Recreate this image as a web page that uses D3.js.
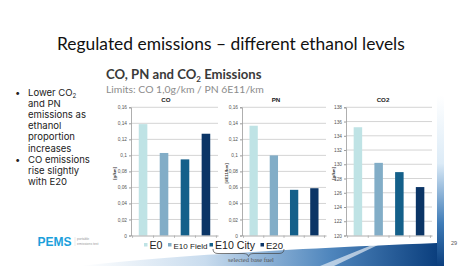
<!DOCTYPE html>
<html><head><meta charset="utf-8">
<script src="https://cdn.jsdelivr.net/npm/d3@7/dist/d3.min.js"></script>
<style>html,body{margin:0;padding:0;background:#fff;overflow:hidden}</style>
</head><body>
<svg id="c" width="474" height="266"></svg>
<script>
// ---- data ----
const categories = ["E0", "E10 Field", "E10 City", "E20"];
const coValues  = [0.139, 0.103, 0.095, 0.127];
const pnValues  = [0.137, 0.100, 0.057, 0.059];
const co2Values = [135.2, 130.2, 128.9, 126.8];
const coTicks  = [0, 0.02, 0.04, 0.06, 0.08, 0.1, 0.12, 0.14, 0.16];
const pnTicks  = [0, 0.02, 0.04, 0.06, 0.08, 0.1, 0.12, 0.14, 0.16];
const co2Ticks = [120, 122, 124, 126, 128, 130, 132, 134, 136, 138];
const bulletLines1 = ["Lower CO₂", "and PN", "emissions as", "ethanol", "proportion", "increases"];
const bulletLines2 = ["CO emissions", "rise slightly", "with E20"];

const colors = ["#bfe3e5", "#82adc7", "#14608a", "#0b3566"];
const FONT = "Lato, 'Open Sans', sans-serif";
const BFONT = "Inter, 'Open Sans', sans-serif";
const ARIAL = "Arial, 'Liberation Sans', sans-serif";

const svg = d3.select("#c");
const defs = svg.append("defs");

// ---- decorative background ----
const g1 = defs.append("linearGradient").attr("id","gb").attr("x1","0").attr("x2","1").attr("y1","0").attr("y2","0");
g1.append("stop").attr("offset","0").attr("stop-color","#ffffff");
g1.append("stop").attr("offset","0.35").attr("stop-color","#c9dcee");
g1.append("stop").attr("offset","0.7").attr("stop-color","#4f86bd");
g1.append("stop").attr("offset","1").attr("stop-color","#0b3f7e");
svg.append("path").attr("d","M80,266 C150,258 260,250 437,243 L437,266 Z").attr("fill","url(#gb)");
const g2 = defs.append("linearGradient").attr("id","gv").attr("x1","0").attr("x2","0").attr("y1","0").attr("y2","1");
g2.append("stop").attr("offset","0").attr("stop-color","#ffffff");
g2.append("stop").attr("offset","0.4").attr("stop-color","#dcebf7");
g2.append("stop").attr("offset","0.75").attr("stop-color","#3f7cb8");
g2.append("stop").attr("offset","1").attr("stop-color","#0b3f7e");
svg.append("rect").attr("x",437).attr("y",95).attr("width",7).attr("height",171).attr("fill","url(#gv)");
svg.append("path").attr("d","M320,266 L372,245 L378,245 L334,266 Z").attr("fill","#ffffff").attr("opacity",0.6);

// ---- helpers ----
function fit(sel, w) {
  const cur = sel.node().getComputedTextLength();
  const fs = parseFloat(sel.attr("font-size"));
  sel.attr("font-size", (fs * w / cur).toFixed(2));
}

// ---- title ----
const title = svg.append("text").attr("x",57).attr("y",50).attr("font-family",FONT)
  .attr("font-size",17).attr("fill","#111").text("Regulated emissions – different ethanol levels");
fit(title, 348);

const sub = svg.append("text").attr("x",106).attr("y",79).attr("font-family",FONT)
  .attr("font-size",12).attr("font-weight","bold").attr("fill","#3a3a3a");
sub.append("tspan").text("CO, PN and CO");
sub.append("tspan").attr("dy",2.5).attr("font-size",8).text("2");
sub.append("tspan").attr("dy",-2.5).text(" Emissions");
fit(sub, 156);
const lim = svg.append("text").attr("x",106).attr("y",93).attr("font-family",FONT)
  .attr("font-size",10).attr("fill","#8c8c8c").text("Limits: CO 1,0g/km / PN 6E11/km");
fit(lim, 158);

// ---- bullets ----
const probe = svg.append("text").attr("font-family",BFONT).attr("font-size",10).text("emissions as");
const bfs = Math.min(10.5, 10 * 58 / probe.node().getComputedTextLength());
probe.remove();
function bullets(lines, y0) {
  svg.append("text").attr("x",15).attr("y",y0).attr("font-family",BFONT).attr("font-size",bfs).attr("fill","#222").text("•");
  lines.forEach((l, i) => {
    const t = svg.append("text").attr("x",28).attr("y",y0 + i*11.1).attr("font-family",BFONT)
      .attr("font-size",bfs).attr("fill","#222");
    if (l.includes("₂")) {
      t.append("tspan").text("Lower CO");
      t.append("tspan").attr("dy",2).attr("font-size",bfs*0.65).text("2");
    } else t.text(l);
  });
}
bullets(bulletLines1, 96);
bullets(bulletLines2, 163);

// ---- charts ----
const yTop = 107.3, yBot = 235.5;
function chart(opts) {
  const g = svg.append("g");
  const x = d3.scaleBand().domain(categories).range([opts.x0, opts.x1]).paddingInner(0.59).paddingOuter(0.37);
  const y = d3.scaleLinear().domain(opts.domain).range([yBot, yTop]);
  g.append("g").selectAll("line").data(opts.ticks.slice(1)).join("line")
    .attr("x1",opts.x0).attr("x2",opts.x1).attr("y1",d=>y(d)).attr("y2",d=>y(d))
    .attr("stroke","#c9c9c9").attr("stroke-width",0.8);
  const ax = g.append("g").attr("transform",`translate(${opts.x0},0)`)
    .call(d3.axisLeft(y).tickValues(opts.ticks).tickSize(2).tickPadding(2).tickFormat(opts.fmt));
  ax.select(".domain").attr("stroke","#9a9a9a").attr("stroke-width",0.8);
  ax.selectAll(".tick line").attr("stroke","#9a9a9a");
  ax.selectAll("text").attr("font-size",4.8).attr("fill","#555").attr("font-family",ARIAL);
  g.append("g").selectAll("rect").data(opts.values).join("rect")
    .attr("x",(d,i)=>x(categories[i])).attr("width",x.bandwidth())
    .attr("y",d=>y(d)).attr("height",d=>yBot - y(d))
    .attr("fill",(d,i)=>colors[i]);
  const bx = g.append("g").attr("transform",`translate(0,${yBot})`)
    .call(d3.axisBottom(x).tickSize(0).tickFormat(""));
  bx.select(".domain").attr("stroke","#9a9a9a").attr("stroke-width",0.8);
  const step = x.step();
  const edge = i => opts.x0 + x.paddingOuter()*step - x.paddingInner()*step/2 + i*step;
  g.append("g").selectAll("line").data(d3.range(categories.length+1)).join("line")
    .attr("x1",edge).attr("x2",edge)
    .attr("y1",yBot).attr("y2",yBot+2.5).attr("stroke","#9a9a9a").attr("stroke-width",0.6);
  g.append("text").attr("x",opts.tx).attr("y",102).attr("text-anchor","middle")
    .attr("font-family",ARIAL).attr("font-weight","bold")
    .attr("font-size",6.2).attr("fill","#222").text(opts.title);
  g.append("text").attr("transform",`translate(${opts.ux},${(yTop+yBot)/2 + 2}) rotate(-90)`)
    .attr("text-anchor","middle").attr("font-family",ARIAL)
    .attr("font-weight","bold").attr("font-size",4.3).attr("fill","#333").text(opts.unit);
}
const commaFmt = v => (+v.toFixed(2)).toString().replace(".", ",");
chart({x0:131, x1:218, domain:[0,0.16], ticks:coTicks, values:coValues, fmt:commaFmt, title:"CO", tx:166, ux:116, unit:"[g/km]"});
chart({x0:242, x1:326, domain:[0,0.16], ticks:pnTicks, values:pnValues, fmt:commaFmt, title:"PN", tx:276, ux:228, unit:"[#E11/km]"});
chart({x0:346, x1:432, domain:[120,138], ticks:co2Ticks, values:co2Values, fmt:d=>String(d), title:"CO2", tx:383, ux:335, unit:"[g/km]"});

// ---- legend ----
const legendItems = [
  {x:144, w:13, label:categories[0]},
  {x:168, w:34, label:categories[1]},
  {x:209.5, w:40, label:categories[2]},
  {x:260.5, w:17, label:categories[3]}
];
legendItems.forEach((it, i) => {
  svg.append("rect").attr("x",it.x).attr("y",243).attr("width",3.5).attr("height",3.5).attr("fill",colors[i]);
  const t = svg.append("text").attr("x",it.x+5.5).attr("y",248.5).attr("font-family",ARIAL)
    .attr("font-size",10).attr("fill","#222").text(it.label);
  fit(t, it.w);
});
svg.append("path").attr("d","M213,249 Q213,253.5 218,253.5 L243,253.5 Q248,253.5 248.5,256.5 Q249,253.5 254,253.5 L279,253.5 Q284,253.5 284,249")
  .attr("fill","none").attr("stroke","#444").attr("stroke-width",0.7);
svg.append("text").attr("x",251).attr("y",261.5).attr("text-anchor","middle").attr("font-family","'Liberation Serif', serif")
  .attr("font-size",6.5).attr("fill","#555").text("selected base fuel");

// ---- logo & page ----
svg.append("text").attr("x",37.5).attr("y",246).attr("font-family",ARIAL)
  .attr("font-weight","bold").attr("font-size",12).attr("fill","#1ba0db").text("PEMS");
svg.append("line").attr("x1",75).attr("x2",75).attr("y1",237).attr("y2",246).attr("stroke","#ccc").attr("stroke-width",0.4);
svg.append("text").attr("x",77).attr("y",240).attr("font-family",ARIAL).attr("font-size",3.4).attr("fill","#9a9a9a").text("portable");
svg.append("text").attr("x",77).attr("y",244.5).attr("font-family",ARIAL).attr("font-size",3.4).attr("fill","#9a9a9a").text("emissions test");
svg.append("text").attr("x",451).attr("y",245).attr("font-family",ARIAL).attr("font-size",5.5).attr("fill","#555").text("29");
</script>
</body></html>
